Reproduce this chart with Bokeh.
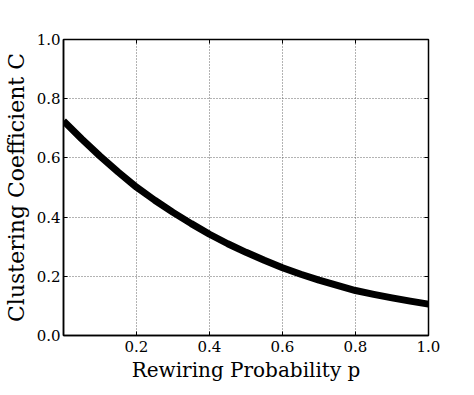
from bokeh.plotting import figure
from bokeh.models import LinearAxis, FixedTicker, CustomJSTickFormatter, Range1d, NumeralTickFormatter
from bokeh.embed import file_html
from bokeh.resources import INLINE

# Clustering coefficient of a rewired ring lattice, sampled along p
p_values = [0.00, 0.05, 0.10, 0.15, 0.20, 0.25, 0.30, 0.35, 0.40, 0.45, 0.50,
            0.55, 0.60, 0.65, 0.70, 0.75, 0.80, 0.85, 0.90, 0.95, 1.00]
c_values = [0.725, 0.664, 0.606, 0.552, 0.501, 0.457, 0.416, 0.378, 0.342, 0.310, 0.281,
            0.254, 0.229, 0.207, 0.187, 0.169, 0.152, 0.139, 0.127, 0.116, 0.106]

x_ticks = [0.2, 0.4, 0.6, 0.8, 1.0]
y_ticks = [0.0, 0.2, 0.4, 0.6, 0.8, 1.0]

FONT = "DejaVu Serif"

p = figure(width=474, height=395, output_backend="svg", toolbar_location=None,
           x_range=Range1d(0, 1), y_range=Range1d(0, 1),
           min_border_left=60, min_border_right=46, min_border_top=39, min_border_bottom=60,
           background_fill_color="white", border_fill_color="white")

p.outline_line_color = "black"
p.outline_line_width = 1.5

p.line(p_values, c_values, line_color="black", line_width=7, line_join="round", line_cap="butt")

for ax in (p.xaxis[0], p.yaxis[0]):
    ax.axis_line_color = "black"
    ax.axis_line_width = 1.5
    ax.major_tick_in = 4
    ax.major_tick_out = 0
    ax.major_tick_line_color = "black"
    ax.minor_tick_line_color = None
    ax.major_label_text_font = FONT
    ax.major_label_text_font_size = "15px"
    ax.major_label_text_color = "black"
    ax.formatter = NumeralTickFormatter(format="0.0")
    ax.axis_label_text_font = FONT
    ax.axis_label_text_font_style = "normal"
    ax.axis_label_text_color = "black"

p.xaxis[0].ticker = FixedTicker(ticks=x_ticks)
p.yaxis[0].ticker = FixedTicker(ticks=y_ticks)
p.xaxis[0].major_label_standoff = 5
p.yaxis[0].major_label_standoff = 3
p.xaxis[0].axis_label = "Rewiring Probability p"
p.yaxis[0].axis_label = "Clustering Coefficient C"
p.xaxis[0].axis_label_text_font_size = "20px"
p.yaxis[0].axis_label_text_font_size = "22px"
p.xaxis[0].axis_label_standoff = 3
p.yaxis[0].axis_label_standoff = 5

# inward ticks on the top and right edges, no labels
blank = CustomJSTickFormatter(code="return ''")
top = LinearAxis(ticker=FixedTicker(ticks=x_ticks), formatter=blank)
right = LinearAxis(ticker=FixedTicker(ticks=y_ticks), formatter=blank)
for ax in (top, right):
    ax.axis_line_color = None
    ax.major_tick_in = 4
    ax.major_tick_out = 0
    ax.major_tick_line_color = "black"
    ax.minor_tick_line_color = None
    ax.major_label_standoff = 0
    ax.major_label_text_font_size = "1px"
p.add_layout(top, "above")
p.add_layout(right, "right")

for g in (p.xgrid[0], p.ygrid[0]):
    g.grid_line_color = "#666666"
    g.grid_line_dash = "1 2"
    g.grid_line_width = 1
p.xgrid[0].ticker = FixedTicker(ticks=x_ticks)
p.ygrid[0].ticker = FixedTicker(ticks=y_ticks)

open("out.html", "w").write(file_html(p, INLINE))
